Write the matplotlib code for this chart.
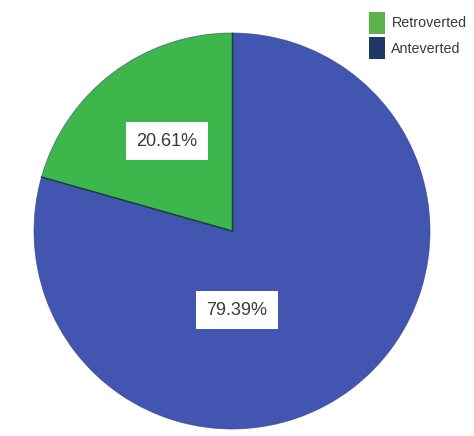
import numpy as np
from matplotlib import pyplot as plt
from matplotlib.patches import Patch, Circle

categories = ["Retroverted", "Anteverted"]
shares = [20.61, 79.39]
pie_colors = ["#3db64b", "#4256b1"]
legend_colors = ["#5db348", "#1f3866"]

W, H = 474, 436
CX, CY, R = 232, 231, 198  # pie centre / radius in pixels (from top-left)


def plot_pie():
    fig = plt.figure(figsize=(W / 100, H / 100), dpi=100)
    ax = fig.add_axes([0, 0, 1, 1])

    wedges, _ = ax.pie(shares, colors=pie_colors, startangle=90,
                       counterclock=True, radius=1.0,
                       wedgeprops=dict(edgecolor="none"))
    ax.set_xlim(-CX / R, (W - CX) / R)
    ax.set_ylim(-(H - CY) / R, CY / R)
    ax.set_aspect("auto")
    ax.axis("off")

    # faint outline and dark slice borders
    ax.add_patch(Circle((0, 0), 1.0, fc="none", ec="#2a3570", lw=0.6, alpha=0.6, zorder=3))
    for w in wedges:
        for th in (w.theta1, w.theta2):
            t = np.deg2rad(th)
            ax.plot([0, np.cos(t)], [0, np.sin(t)], color="#1d3f3f", lw=0.9, zorder=3)

    box = dict(boxstyle="square,pad=0.6", fc="white", ec="none")
    ax.text(-65 / R, 90 / R, f"{shares[0]:.2f}%", ha="center", va="center",
            fontsize=13, color="#3a3a3a", family="Liberation Sans", bbox=box, zorder=4)
    ax.text(5 / R, -79 / R, f"{shares[1]:.2f}%", ha="center", va="center",
            fontsize=13, color="#3a3a3a", family="Liberation Sans", bbox=box, zorder=4)

    handles = [Patch(fc=c, ec="none") for c in legend_colors]
    fig.legend(handles, categories, loc="upper left",
               bbox_to_anchor=(369 / W, 1 - 12 / H), frameon=False,
               borderpad=0, borderaxespad=0, handlelength=1.12, handleheight=1.95,
               handletextpad=0.45, labelspacing=0.25,
               prop=dict(family="Liberation Sans", size=10.3), labelcolor="#3a3a3a")
    return fig


if __name__ == "__main__":
    fig = plot_pie()
    fig.savefig("out.png", dpi=100)
